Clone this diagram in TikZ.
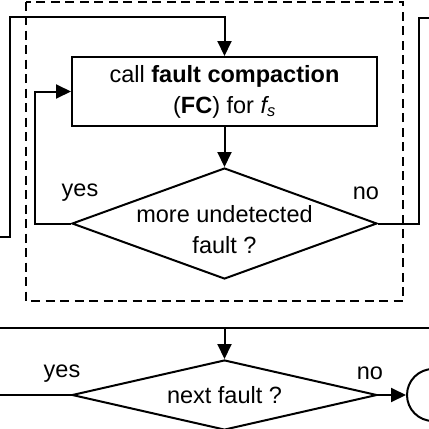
\documentclass[tikz,border=0pt]{standalone}
\usepackage{fontspec}
\setmainfont{Liberation Sans}
\usetikzlibrary{arrows.meta,shapes.geometric}

\begin{document}
\begin{tikzpicture}[
  x=1pt, y=-1pt,
  every node/.style={font=\fontsize{23.5}{31}\selectfont},
  proc/.style={draw, line width=2pt, rectangle, minimum width=305pt,
               minimum height=69pt, inner sep=0pt, align=center},
  dec/.style={draw, line width=2pt, diamond, minimum width=305pt,
              inner sep=0pt},
  flow/.style={line width=2pt},
  arr/.style={flow, -{Triangle[length=15pt,width=14pt]}},
  zone/.style={draw, line width=2pt, dash pattern=on 9pt off 5.5pt},
]
\clip (0,0) rectangle (429,429);

%% ── FC zone (dashed) ─────────────────────────────────────────────────────────
\draw[zone] (26,1.5) rectangle (403,301);

%% ── Fault compaction box ─────────────────────────────────────────────────────
\node[proc] (fc) at (224.5,91.5) {call \textbf{fault compaction}\\
  (\textbf{FC}) for \textit{f\textsubscript{s}}};

%% ── More undetected fault ? ──────────────────────────────────────────────────
\node[dec, minimum height=111pt] (more) at (224.5,223.5) {};
\node[align=center] (moreTxt) at (224.5,230) {more undetected\\fault ?};

\draw[arr] (fc.south) -- (more.north);

%% yes: back to FC
\node (yesA) at (80,193) {yes};
\draw[arr] (more.west) -- ++(-36,0) |- (fc.west);

%% no: leave to the right
\coordinate (outR) at (429,18);
\node (noA) at (366,193) {no};
\draw[flow] (more.east) -- ++(41,0) |- (outR);

%% entry from the left
\coordinate (inL) at (0,237);
\coordinate (loopL) at (10,17);
\draw[arr] (inL) -| (loopL) -| (fc.north);

%% ── Next fault ? ─────────────────────────────────────────────────────────────
\coordinate (busL) at (0,328);
\coordinate (busR) at (429,328);
\coordinate (busM) at (224.5,328);
\draw[flow] (busL) -- (busR);

\node[dec, minimum height=70pt] (next) at (224.5,395) {};
\node (nextTxt) at (224.5,395) {next fault ?};
\draw[arr] (busM) -- (next.north);

%% yes
\coordinate (inY) at (0,395);
\node (yesB) at (62,374) {yes};
\draw[flow] (inY) -- (next.west);

%% no: to end
\node[draw, circle, line width=2pt, minimum size=52pt, inner sep=0pt]
  (stop) at (433,395) {};
\node (noB) at (370,373) {no};
\draw[arr] (next.east) -- (stop.west);

\end{tikzpicture}
\end{document}
